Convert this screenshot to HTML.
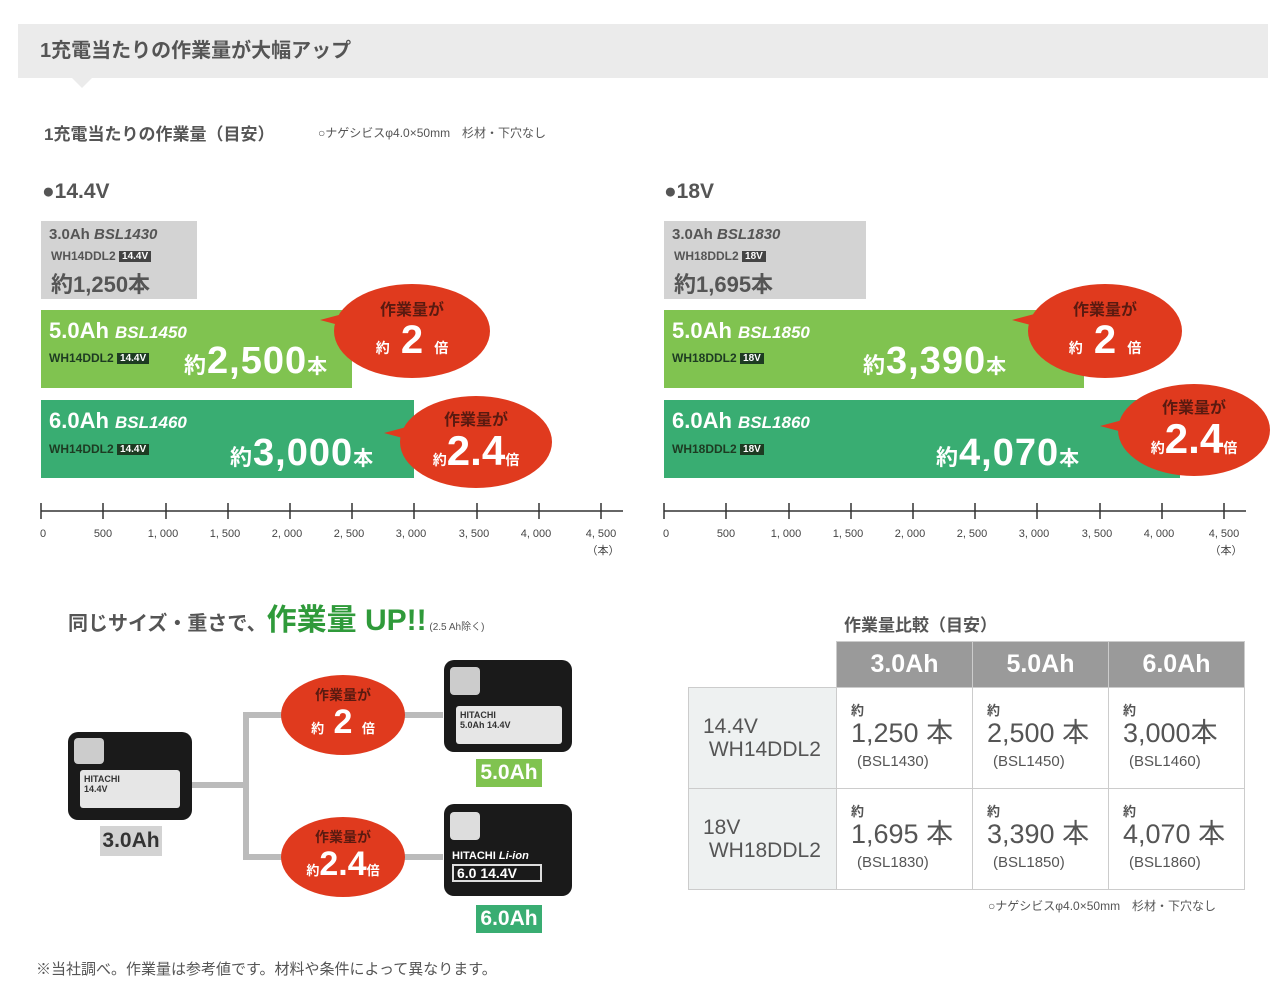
<!DOCTYPE html>
<html><head><meta charset="utf-8">
<style>
*{margin:0;padding:0;box-sizing:border-box}
body{width:1280px;height:990px;background:#fff;position:relative;overflow:hidden;font-family:"Liberation Sans","Noto Sans CJK JP",sans-serif;color:#555}
.a{position:absolute;white-space:nowrap}
.b{font-weight:bold}
.ell{position:absolute;background:#e03a1e;border-radius:50%;color:#fff;text-align:center}
.tag{display:inline-block;background:#1d3b22;color:#fff;font-size:10px;padding:0 3px;line-height:11px;vertical-align:middle}
.bat{position:absolute;background:#1a1a1a;border-radius:10px}
.lbl{position:absolute;color:#fff;font-weight:bold;font-size:21px;text-align:center;line-height:28px}
.big{font-size:38px;letter-spacing:1px}
td{border:1px solid #ccc;vertical-align:top;color:#555}
</style></head><body>
<div class="a" style="left:18px;top:24px;width:1250px;height:54px;background:#ebebeb"></div>
<div class="a" style="left:72px;top:78px;width:0;height:0;border-left:10px solid transparent;border-right:10px solid transparent;border-top:10px solid #ebebeb"></div>
<div class="a b" style="left:40px;top:34px;font-size:20px;color:#555">1充電当たりの作業量が大幅アップ</div>
<div class="a b" style="left:44px;top:120px;font-size:17px">1充電当たりの作業量（目安）</div>
<div class="a" style="left:318px;top:124px;font-size:12px">○ナゲシビスφ4.0×50mm　杉材・下穴なし</div>

<div class="a b" style="left:42px;top:180px;font-size:21px">●14.4V</div>
<div class="a" style="left:41px;top:221px;width:156px;height:78px;background:#d3d3d3"></div>
<div class="a b" style="left:49px;top:226px;font-size:15px;color:#555">3.0Ah <i>BSL1430</i></div>
<div class="a b" style="left:51px;top:249px;font-size:12px;color:#555">WH14DDL2 <span class="tag" style="background:#444">14.4V</span></div>
<div class="a b" style="left:51px;top:267px;font-size:22px;color:#555">約1,250本</div>

<div class="a" style="left:41px;top:310px;width:311px;height:78px;background:#80c350"></div>
<div class="a b" style="left:49px;top:318px;font-size:22px;color:#fff">5.0Ah <i style="font-size:17px">BSL1450</i></div>
<div class="a b" style="left:49px;top:351px;font-size:12px;color:#1d3b22">WH14DDL2 <span class="tag">14.4V</span></div>
<div class="a b big" style="left:184px;top:340px;color:#fff"><span style="font-size:22px">約</span>2,500<span style="font-size:20px">本</span></div>

<div class="a" style="left:41px;top:400px;width:373px;height:78px;background:#39ad72"></div>
<div class="a b" style="left:49px;top:408px;font-size:22px;color:#fff">6.0Ah <i style="font-size:17px">BSL1460</i></div>
<div class="a b" style="left:49px;top:442px;font-size:12px;color:#1d3b22">WH14DDL2 <span class="tag">14.4V</span></div>
<div class="a b big" style="left:230px;top:432px;color:#fff"><span style="font-size:22px">約</span>3,000<span style="font-size:20px">本</span></div>

<div class="a" style="left:320px;top:312px;width:0;height:0;border-top:8px solid transparent;border-bottom:8px solid transparent;border-right:30px solid #e03a1e"></div>
<div class="ell" style="left:334px;top:284px;width:156px;height:94px">
<div class="b" style="font-size:16px;margin-top:12px;color:#5a1a10">作業量が</div>
<div class="b" style="font-size:40px;line-height:40px"><span style="font-size:14px">約</span> 2 <span style="font-size:14px">倍</span></div></div>
<div class="a" style="left:384px;top:425px;width:0;height:0;border-top:8px solid transparent;border-bottom:8px solid transparent;border-right:30px solid #e03a1e"></div>
<div class="ell" style="left:400px;top:396px;width:152px;height:92px">
<div class="b" style="font-size:16px;margin-top:10px;color:#5a1a10">作業量が</div>
<div class="b" style="font-size:42px;line-height:42px"><span style="font-size:14px">約</span>2.4<span style="font-size:14px">倍</span></div></div>

<div class="a b" style="left:664px;top:180px;font-size:21px">●18V</div>
<div class="a" style="left:664px;top:221px;width:202px;height:78px;background:#d3d3d3"></div>
<div class="a b" style="left:672px;top:226px;font-size:15px">3.0Ah <i>BSL1830</i></div>
<div class="a b" style="left:674px;top:249px;font-size:12px">WH18DDL2 <span class="tag" style="background:#444">18V</span></div>
<div class="a b" style="left:674px;top:267px;font-size:22px">約1,695本</div>

<div class="a" style="left:664px;top:310px;width:420px;height:78px;background:#80c350"></div>
<div class="a b" style="left:672px;top:318px;font-size:22px;color:#fff">5.0Ah <i style="font-size:17px">BSL1850</i></div>
<div class="a b" style="left:672px;top:351px;font-size:12px;color:#1d3b22">WH18DDL2 <span class="tag">18V</span></div>
<div class="a b big" style="left:863px;top:340px;color:#fff"><span style="font-size:22px">約</span>3,390<span style="font-size:20px">本</span></div>

<div class="a" style="left:664px;top:400px;width:516px;height:78px;background:#39ad72"></div>
<div class="a b" style="left:672px;top:408px;font-size:22px;color:#fff">6.0Ah <i style="font-size:17px">BSL1860</i></div>
<div class="a b" style="left:672px;top:442px;font-size:12px;color:#1d3b22">WH18DDL2 <span class="tag">18V</span></div>
<div class="a b big" style="left:936px;top:432px;color:#fff"><span style="font-size:22px">約</span>4,070<span style="font-size:20px">本</span></div>

<div class="a" style="left:1012px;top:312px;width:0;height:0;border-top:8px solid transparent;border-bottom:8px solid transparent;border-right:30px solid #e03a1e"></div>
<div class="ell" style="left:1028px;top:284px;width:154px;height:94px">
<div class="b" style="font-size:16px;margin-top:12px;color:#5a1a10">作業量が</div>
<div class="b" style="font-size:40px;line-height:40px"><span style="font-size:14px">約</span> 2 <span style="font-size:14px">倍</span></div></div>
<div class="a" style="left:1100px;top:418px;width:0;height:0;border-top:8px solid transparent;border-bottom:8px solid transparent;border-right:30px solid #e03a1e"></div>
<div class="ell" style="left:1118px;top:384px;width:152px;height:92px">
<div class="b" style="font-size:16px;margin-top:10px;color:#5a1a10">作業量が</div>
<div class="b" style="font-size:42px;line-height:42px"><span style="font-size:14px">約</span>2.4<span style="font-size:14px">倍</span></div></div>

<svg class="a" style="left:0;top:495px" width="1280" height="70">
<g stroke="#333" stroke-width="1.5">
<line x1="41" y1="16" x2="623" y2="16"/><line x1="664" y1="16" x2="1246" y2="16"/>
<g id="tk">
<line x1="41" y1="8" x2="41" y2="24"/><line x1="103" y1="8" x2="103" y2="24"/><line x1="166" y1="8" x2="166" y2="24"/><line x1="228" y1="8" x2="228" y2="24"/><line x1="290" y1="8" x2="290" y2="24"/><line x1="352" y1="8" x2="352" y2="24"/><line x1="414" y1="8" x2="414" y2="24"/><line x1="477" y1="8" x2="477" y2="24"/><line x1="539" y1="8" x2="539" y2="24"/><line x1="601" y1="8" x2="601" y2="24"/>
</g>
<use href="#tk" x="623"/>
</g>
<g font-size="11" fill="#444" text-anchor="middle" font-family="Liberation Sans, sans-serif" id="tl">
<text x="43" y="42">0</text><text x="103" y="42">500</text><text x="163" y="42">1, 000</text><text x="225" y="42">1, 500</text><text x="287" y="42">2, 000</text><text x="349" y="42">2, 500</text><text x="411" y="42">3, 000</text><text x="474" y="42">3, 500</text><text x="536" y="42">4, 000</text><text x="601" y="42">4, 500</text>
<text x="603" y="59" font-family="Noto Sans CJK JP, sans-serif">（本）</text>
</g>
<use href="#tl" x="623"/>
</svg>

<div class="a b" style="left:68px;top:595px;font-size:20px;color:#555">同じサイズ・重さで、<span style="color:#2f9a3a;font-size:30px">作業量 UP!!</span><span style="font-size:10px;font-weight:normal"> (2.5 Ah除く)</span></div>
<div class="a" style="left:190px;top:782px;width:56px;height:6px;background:#bbb"></div>
<div class="a" style="left:243px;top:712px;width:6px;height:148px;background:#bbb"></div>
<div class="a" style="left:243px;top:712px;width:200px;height:6px;background:#bbb"></div>
<div class="a" style="left:243px;top:854px;width:200px;height:6px;background:#bbb"></div>
<div class="ell" style="left:281px;top:675px;width:124px;height:80px">
<div class="b" style="font-size:14px;margin-top:10px;color:#5a1a10">作業量が</div>
<div class="b" style="font-size:34px;line-height:34px"><span style="font-size:13px">約</span> 2 <span style="font-size:13px">倍</span></div></div>
<div class="ell" style="left:281px;top:817px;width:124px;height:80px">
<div class="b" style="font-size:14px;margin-top:10px;color:#5a1a10">作業量が</div>
<div class="b" style="font-size:34px;line-height:34px"><span style="font-size:13px">約</span>2.4<span style="font-size:13px">倍</span></div></div>

<div class="bat" style="left:68px;top:732px;width:124px;height:88px"></div>
<div class="a" style="left:80px;top:770px;width:100px;height:38px;background:#e6e6e6;border-radius:3px;font-size:9px;font-weight:bold;color:#333;padding:4px">HITACHI<br>14.4V</div>
<div class="a" style="left:74px;top:738px;width:30px;height:26px;background:#ccc;border-radius:4px"></div>
<div class="a" style="left:100px;top:826px;width:62px;height:30px;background:#d3d3d3;color:#333;font-weight:bold;font-size:21px;text-align:center;line-height:30px">3.0Ah</div>

<div class="bat" style="left:444px;top:660px;width:128px;height:92px"></div>
<div class="a" style="left:456px;top:706px;width:106px;height:38px;background:#e6e6e6;border-radius:3px;font-size:9px;font-weight:bold;color:#333;padding:4px">HITACHI<br>5.0Ah 14.4V</div>
<div class="a" style="left:450px;top:667px;width:30px;height:28px;background:#ccc;border-radius:4px"></div>
<div class="lbl" style="left:476px;top:759px;width:66px;background:#80c350">5.0Ah</div>

<div class="bat" style="left:444px;top:804px;width:128px;height:92px"></div>
<div class="a" style="left:452px;top:850px;width:112px;font-size:11px;font-weight:bold;color:#fff">HITACHI <i>Li-ion</i></div>
<div class="a" style="left:452px;top:864px;width:90px;height:18px;border:2px solid #ddd;font-size:14px;font-weight:bold;color:#fff;line-height:14px;padding-left:3px">6.0 14.4V</div>
<div class="a" style="left:450px;top:812px;width:30px;height:28px;background:#ddd;border-radius:4px"></div>
<div class="lbl" style="left:476px;top:905px;width:66px;background:#39ad72">6.0Ah</div>

<div class="a b" style="left:844px;top:611px;font-size:17px">作業量比較（目安）</div>
<table class="a" style="left:688px;top:641px;border-collapse:collapse;font-family:'Liberation Sans','Noto Sans CJK JP',sans-serif">
<tr style="height:46px"><td style="border:none;width:148px"></td>
<td style="background:#9a9a9a;color:#fff;width:136px;text-align:center;vertical-align:middle;font-size:25px;font-weight:bold">3.0Ah</td>
<td style="background:#9a9a9a;color:#fff;width:136px;text-align:center;vertical-align:middle;font-size:25px;font-weight:bold">5.0Ah</td>
<td style="background:#9a9a9a;color:#fff;width:136px;text-align:center;vertical-align:middle;font-size:25px;font-weight:bold">6.0Ah</td></tr>
<tr style="height:101px"><td style="background:#eef1f1;vertical-align:middle;font-size:21px;padding-left:14px;line-height:23px">14.4V<br>&nbsp;WH14DDL2</td>
<td style="padding:12px 0 0 14px"><div class="b" style="font-size:13px">約</div><div style="font-size:27px;line-height:28px">1,250 本</div><div style="font-size:15px;margin-top:6px;padding-left:6px">(BSL1430)</div></td>
<td style="padding:12px 0 0 14px"><div class="b" style="font-size:13px">約</div><div style="font-size:27px;line-height:28px">2,500 本</div><div style="font-size:15px;margin-top:6px;padding-left:6px">(BSL1450)</div></td>
<td style="padding:12px 0 0 14px"><div class="b" style="font-size:13px">約</div><div style="font-size:27px;line-height:28px">3,000本</div><div style="font-size:15px;margin-top:6px;padding-left:6px">(BSL1460)</div></td></tr>
<tr style="height:101px"><td style="background:#eef1f1;vertical-align:middle;font-size:21px;padding-left:14px;line-height:23px">18V<br>&nbsp;WH18DDL2</td>
<td style="padding:12px 0 0 14px"><div class="b" style="font-size:13px">約</div><div style="font-size:27px;line-height:28px">1,695 本</div><div style="font-size:15px;margin-top:6px;padding-left:6px">(BSL1830)</div></td>
<td style="padding:12px 0 0 14px"><div class="b" style="font-size:13px">約</div><div style="font-size:27px;line-height:28px">3,390 本</div><div style="font-size:15px;margin-top:6px;padding-left:6px">(BSL1850)</div></td>
<td style="padding:12px 0 0 14px"><div class="b" style="font-size:13px">約</div><div style="font-size:27px;line-height:28px">4,070 本</div><div style="font-size:15px;margin-top:6px;padding-left:6px">(BSL1860)</div></td></tr>
</table>
<div class="a" style="left:988px;top:897px;font-size:12px">○ナゲシビスφ4.0×50mm　杉材・下穴なし</div>
<div class="a" style="left:36px;top:958px;font-size:15px">※当社調べ。作業量は参考値です。材料や条件によって異なります。</div>
</body></html>
